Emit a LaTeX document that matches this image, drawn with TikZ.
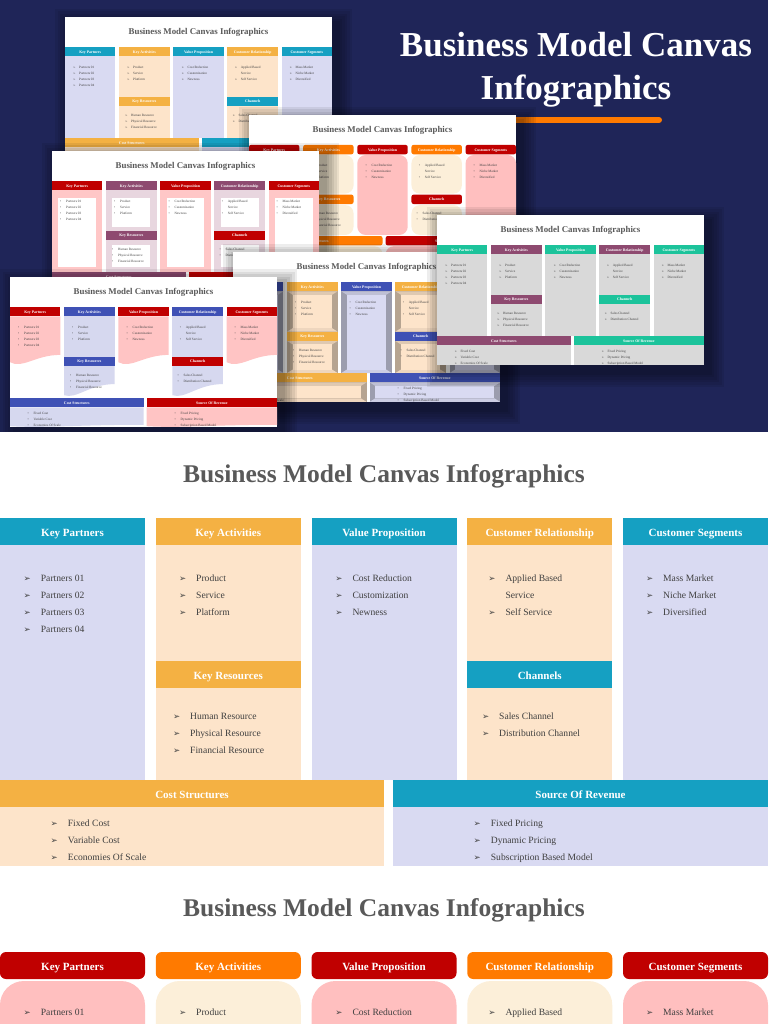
\documentclass[tikz,border=0pt]{standalone}
\usepackage{fontspec}
\setmainfont{Liberation Serif}
\newfontfamily\dejavu{DejaVu Sans}
\definecolor{navy}{HTML}{1F2558}
\definecolor{mteal}{HTML}{15A0C2}
\definecolor{morange}{HTML}{F4B143}
\definecolor{mlav}{HTML}{D9DAF2}
\definecolor{mpeach}{HTML}{FDE4CA}
\definecolor{bred}{HTML}{C00000}
\definecolor{borange}{HTML}{FF7A00}
\definecolor{bpink}{HTML}{FFBFBF}
\definecolor{bcream}{HTML}{FCEFD9}
\definecolor{cpurple}{HTML}{8E4A70}
\definecolor{cmauve}{HTML}{E8D6DF}
\definecolor{cpink}{HTML}{FFC7C7}
\definecolor{dblue}{HTML}{3F51B5}
\definecolor{egreen}{HTML}{1CC39B}
\definecolor{egray}{HTML}{D9D9D9}
\definecolor{fpink}{HTML}{FFC4C4}
\definecolor{flav}{HTML}{D6D8EF}
\definecolor{titlegray}{HTML}{595959}
\definecolor{itemgray}{HTML}{404040}
\definecolor{barorange}{HTML}{FF7A00}
\colorlet{hA}{mteal}\colorlet{hB}{morange}\colorlet{bA}{mlav}\colorlet{bB}{mpeach}
\tikzset{
  cvtitle/.style={font=\bfseries\fontsize{25.5}{28}\selectfont, text=titlegray, inner sep=0pt, anchor=base},
  cvhdr/.style={font=\bfseries\fontsize{11}{13}\selectfont, text=white, inner sep=0pt, anchor=base},
  cvitm/.style={font=\fontsize{9.6}{11}\selectfont, text=itemgray, inner sep=0pt, anchor=base west},
  toptitle/.style={font=\bfseries\fontsize{35}{40}\selectfont, text=white, inner sep=0pt, anchor=base},
  orangebar/.style={line width=6pt, line cap=round, draw=barorange},
  shadowlayer/.style={fill=black, opacity=0.07},
}
\newcommand\mbul{{\dejavu\fontsize{8.5}{9}\selectfont ➢}}
\newcommand\tbul{•}
\def\cvv{0}\def\cvid{M}\def\cvsc{1}\def\cvh{434}\def\cvbul{\mbul}\def\cvpart{0}
\newcount\cvitemno
\newcommand\cvhead[7]{%
  \ifnum\cvv=1
    \fill[#5, rounded corners=\cvsc*6pt] (#1,#2) rectangle (#3,#4);
  \else
    \fill[#5] (#1,#2) rectangle (#3,#4);
  \fi
  \global\advance\cvitemno by 1
  \node[cvhdr] (\cvid h\the\cvitemno) at ({(#1+#3)/2},#7) {#6};
}
\newcommand\cvheadfill[5]{%
  \ifnum\cvv=1
    \fill[#5, rounded corners=\cvsc*6pt] (#1,#2) rectangle (#3,#4);
  \else
    \fill[#5] (#1,#2) rectangle (#3,#4);
  \fi
}
\newcommand\cvitem[3]{%
  \global\advance\cvitemno by 1
  \node[cvitm] (\cvid i\the\cvitemno) at (#1-17.2,#2) {\makebox[17.2pt][l]{\cvbul}#3};
}
\newcommand\cvline[3]{%
  \global\advance\cvitemno by 1
  \node[cvitm] (\cvid i\the\cvitemno) at (#1,#2) {#3};
}
\newcommand\cvbody[6]{%
  \ifcase\cvv\relax
    \fill[#5] (#1,#2) rectangle (#3,#4);
  \or
    \ifcase#6\relax
      \fill[#5,rounded corners=\cvsc*24pt] (#1,#2+2) rectangle (#3,#4-3);
    \or
      \fill[#5,rounded corners=\cvsc*24pt] (#1,#2+2) rectangle (#3,#4-3);
    \or
      \fill[#5,rounded corners=\cvsc*24pt] (#1,#2+3) rectangle (#3,#4-3);
    \or
      \fill[#5,rounded corners=\cvsc*24pt] (#1,#2+2) rectangle (#3,#4);
    \fi
  \or
    \fill[#5] (#1,#2) rectangle (#3,#4);
    \ifcase#6\relax
      \fill[white] (#1+18,#2+21) rectangle (#3-18,#4-15);
    \or
      \fill[white] (#1+18,#2+21) rectangle (#3-18,#4-11);
    \or
      \fill[white] (#1+18,#2+14) rectangle (#3-18,#4-15);
    \or
      \fill[white] (#1+18,#2+8) rectangle (#3-18,#4-8);
    \fi
  \or
    \fill[#5!72!black] (#1,#2) rectangle (#3,#4);
    \fill[#5!88!black] (#1,#2) -- (#3,#2) -- (#3-16,#2+10) -- (#1+16,#2+10) -- cycle;
    \fill[#5!94!black] (#1,#4) -- (#3,#4) -- (#3-16,#4-10) -- (#1+16,#4-10) -- cycle;
    \fill[#5] (#1+16,#2+10) rectangle (#3-16,#4-10);
  \or
    \ifcase#6\relax
      \fill[#5] (#1,#2) -- (#3,#2) -- (#3,224) .. controls ({#1+0.5*(#3-#1)},224) and ({#1+0.25*(#3-#1)},265) .. (#1,245) -- cycle;
    \or
      \fill[#5] (#1,#2) rectangle (#3,#4);
    \or
      \fill[#5] (#1,#2) -- (#3,#2) -- (#3,308) .. controls ({#1+0.5*(#3-#1)},308) and ({#1+0.25*(#3-#1)},352) .. (#1,340) -- cycle;
    \or
      \fill[#5] (#1,#2) -- (#3,#2) -- (#3,#4-6) .. controls ({#1+0.5*(#3-#1)},#4-6) and ({#1+0.25*(#3-#1)},#4+4) .. (#1,#4-2) -- cycle;
    \fi
  \fi
}
\newcommand\drawcanvas{%
  \fill[white] (0,0) rectangle (768,\cvh);
  \node[cvtitle] (\cvid title) at (384,50.7) {Business Model Canvas Infographics};
  \cvbody{0}{113}{145}{348}{bA}{0}
  \cvbody{155.75}{113}{300.75}{229}{bB}{1}
  \cvbody{155.75}{256}{300.75}{348}{bB}{2}
  \cvbody{311.5}{113}{456.5}{348}{bA}{0}
  \cvbody{467.25}{113}{612.25}{229}{bB}{1}
  \cvbody{467.25}{256}{612.25}{348}{bB}{2}
  \cvbody{623}{113}{768}{348}{bA}{0}
  \cvbody{0}{375}{384}{\cvh}{bB}{3}
  \cvbody{393}{375}{768}{\cvh}{bA}{3}
  \cvhead{0}{86}{145}{113}{hA}{Key Partners}{104.5}
  \cvhead{155.75}{86}{300.75}{113}{hB}{Key Activities}{104.5}
  \cvhead{311.5}{86}{456.5}{113}{hA}{Value Proposition}{104.5}
  \cvhead{467.25}{86}{612.25}{113}{hB}{Customer Relationship}{104.5}
  \cvhead{623}{86}{768}{113}{hA}{Customer Segments}{104.5}
  \cvitem{40.7}{149.3}{Partners 01}
  \cvitem{196}{149.3}{Product}
  \cvitem{352.3}{149.3}{Cost Reduction}
  \cvitem{505.3}{149.3}{Applied Based}
  \cvitem{663}{149.3}{Mass Market}
  \ifnum\cvpart<2
    \cvhead{155.75}{229}{300.75}{256}{hB}{Key Resources}{247.3}
    \cvhead{467.25}{229}{612.25}{256}{hA}{Channels}{247.3}
    \cvhead{0}{348}{384}{375}{hB}{Cost Structures}{366}
    \cvhead{393}{348}{768}{375}{hA}{Source Of Revenue}{366}
    \cvitem{40.7}{166.3}{Partners 02}
    \cvitem{40.7}{183.3}{Partners 03}
    \cvitem{40.7}{200.3}{Partners 04}
    \cvitem{196}{166.3}{Service}
    \cvitem{196}{183.3}{Platform}
    \cvitem{352.3}{166.3}{Customization}
    \cvitem{352.3}{183.3}{Newness}
    \cvline{505.3}{166.3}{Service}
    \cvitem{505.3}{183.3}{Self Service}
    \cvitem{663}{166.3}{Niche Market}
    \cvitem{663}{183.3}{Diversified}
    \cvitem{190}{287.5}{Human Resource}
    \cvitem{190}{304.5}{Physical Resource}
    \cvitem{190}{321.5}{Financial Resource}
    \cvitem{499}{287.5}{Sales Channel}
    \cvitem{499}{304.5}{Distribution Channel}
  \else
    \cvheadfill{155.75}{229}{300.75}{256}{hB}
    \cvheadfill{467.25}{229}{612.25}{256}{hA}
    \cvheadfill{0}{348}{384}{375}{hB}
    \cvheadfill{393}{348}{768}{375}{hA}
  \fi
  \ifnum\cvpart<1
    \cvitem{67.7}{394.7}{Fixed Cost}
    \cvitem{67.7}{411.7}{Variable Cost}
    \cvitem{67.7}{428.7}{Economies Of Scale}
    \cvitem{490.7}{394.7}{Fixed Pricing}
    \cvitem{490.7}{411.7}{Dynamic Pricing}
    \cvitem{490.7}{428.7}{Subscription Based Model}
  \fi
}
\newcommand\thumbshadow[2]{%
  \foreach \k in {1,...,6}{
    \fill[shadowlayer] (#1-\k*2.5+5,#2-\k*2.5+7) rectangle (#1+267+\k*2.5+5,#2+150+\k*2.5+7);
  }
}
\newcommand\thumb[2]{%
  \thumbshadow{#1}{#2}
  \begin{scope}[shift={(#1,#2)}, scale=0.3477, transform shape]
    \def\cvsc{0.3477}\def\cvh{431}
    \drawcanvas
  \end{scope}
}
\begin{document}
\begin{tikzpicture}[x=1pt,y=-1pt]
\useasboundingbox (0,0) rectangle (768,1024);
\fill[white] (0,0) rectangle (768,1024);
\fill[navy] (0,0) rectangle (768,432);
\node[toptitle] (ttl1) at (576,57) {Business Model Canvas};
\node[toptitle] (ttl2) at (576,99.5) {Infographics};
\coordinate (barL) at (493,120);
\coordinate (barR) at (659,120);
\draw[orangebar] (barL) -- (barR);
% thumbnail A
\begin{scope}
  \colorlet{hA}{mteal}\colorlet{hB}{morange}\colorlet{bA}{mlav}\colorlet{bB}{mpeach}
  \def\cvv{0}\def\cvid{A}\def\cvbul{\mbul}\def\cvpart{1}
  \thumb{65}{17}
\end{scope}
% thumbnail B
\begin{scope}
  \colorlet{hA}{bred}\colorlet{hB}{borange}\colorlet{bA}{bpink}\colorlet{bB}{bcream}
  \def\cvv{1}\def\cvid{B}\def\cvbul{\tbul}\def\cvpart{1}
  \thumb{249}{115}
\end{scope}
% thumbnail C
\begin{scope}
  \colorlet{hA}{bred}\colorlet{hB}{cpurple}\colorlet{bA}{cpink}\colorlet{bB}{cmauve}
  \def\cvv{2}\def\cvid{C}\def\cvbul{\tbul}\def\cvpart{1}
  \thumb{52}{151}
\end{scope}
% thumbnail D
\begin{scope}
  \colorlet{hA}{dblue}\colorlet{hB}{morange}\colorlet{bA}{mlav}\colorlet{bB}{mpeach}
  \def\cvv{3}\def\cvid{D}\def\cvbul{\tbul}\def\cvpart{0}
  \thumb{233}{252}
\end{scope}
% thumbnail E
\begin{scope}
  \colorlet{hA}{egreen}\colorlet{hB}{cpurple}\colorlet{bA}{egray}\colorlet{bB}{egray}
  \def\cvv{0}\def\cvid{E}\def\cvbul{\mbul}\def\cvpart{0}
  \thumb{437}{215}
\end{scope}
% thumbnail F
\begin{scope}
  \colorlet{hA}{bred}\colorlet{hB}{dblue}\colorlet{bA}{fpink}\colorlet{bB}{flav}
  \def\cvv{4}\def\cvid{F}\def\cvbul{\tbul}\def\cvpart{0}
  \thumb{10}{277}
\end{scope}
% main canvas
\begin{scope}[shift={(0,432)}]
  \colorlet{hA}{mteal}\colorlet{hB}{morange}\colorlet{bA}{mlav}\colorlet{bB}{mpeach}
  \def\cvv{0}\def\cvid{M}\def\cvbul{\mbul}\def\cvpart{0}
  \drawcanvas
\end{scope}
% bottom canvas (cut off at the page edge)
\begin{scope}
  \clip (0,866) rectangle (768,1024);
  \begin{scope}[shift={(0,866)}]
    \colorlet{hA}{bred}\colorlet{hB}{borange}\colorlet{bA}{bpink}\colorlet{bB}{bcream}
    \def\cvv{1}\def\cvid{N}\def\cvbul{\mbul}\def\cvpart{2}
    \drawcanvas
  \end{scope}
\end{scope}
\end{tikzpicture}
\end{document}
